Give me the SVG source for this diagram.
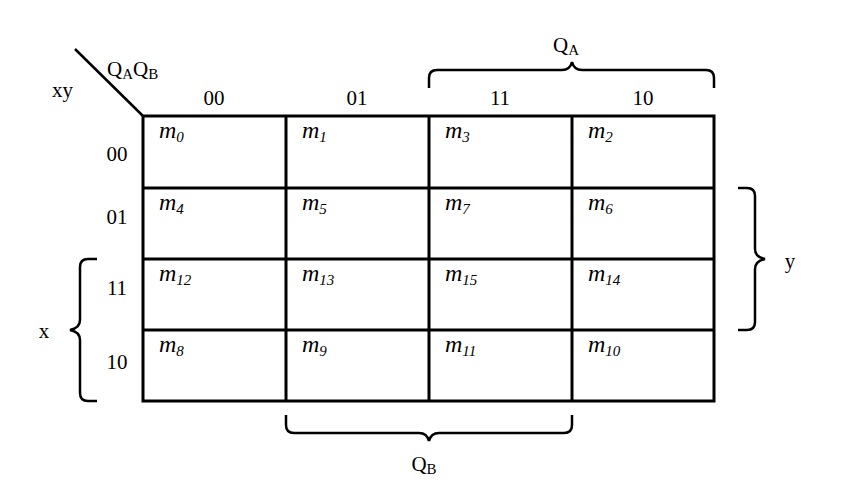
<svg xmlns="http://www.w3.org/2000/svg" width="850" height="492" viewBox="0 0 850 492">
<style>
text{font-family:"Liberation Serif",serif;font-size:21px;fill:#000}
.m{font-style:italic;font-size:24px}
.s{font-size:15px}
.g{stroke:#000;stroke-width:3;fill:none}
.b{stroke:#000;stroke-width:2.5;fill:none}
</style>
<rect width="850" height="492" fill="#fff"/>
<g id="grid">
<rect class="g" x="143" y="116" width="571" height="285"/>
<path class="g" d="M286 116V401M429 116V401M572 116V401M143 188H714M143 259H714M143 330H714"/>
<path d="M75 49L143 116" stroke="#000" stroke-width="2.5"/>
</g>
<g id="labels">
<text x="52" y="97">xy</text>
<text x="107" y="76">Q<tspan class="s" dy="3">A</tspan><tspan dy="-3">Q</tspan><tspan class="s" dy="3">B</tspan></text>
<text x="214" y="105" text-anchor="middle">00</text>
<text x="357" y="105" text-anchor="middle">01</text>
<text x="500" y="105" text-anchor="middle">11</text>
<text x="643" y="105" text-anchor="middle">10</text>
<text x="117" y="161" text-anchor="middle">00</text>
<text x="117" y="224" text-anchor="middle">01</text>
<text x="117" y="295" text-anchor="middle">11</text>
<text x="117" y="369" text-anchor="middle">10</text>
<text x="566" y="52" text-anchor="middle">Q<tspan class="s" dy="3">A</tspan></text>
<text x="424" y="471" text-anchor="middle">Q<tspan class="s" dy="3">B</tspan></text>
<text x="44" y="338" text-anchor="middle">x</text>
<text x="790" y="268" text-anchor="middle">y</text>
</g>
<g id="cells">
<text class="m" x="159" y="138">m<tspan class="s" dy="4">0</tspan></text>
<text class="m" x="302" y="138">m<tspan class="s" dy="4">1</tspan></text>
<text class="m" x="445" y="138">m<tspan class="s" dy="4">3</tspan></text>
<text class="m" x="588" y="138">m<tspan class="s" dy="4">2</tspan></text>
<text class="m" x="159" y="210">m<tspan class="s" dy="4">4</tspan></text>
<text class="m" x="302" y="210">m<tspan class="s" dy="4">5</tspan></text>
<text class="m" x="445" y="210">m<tspan class="s" dy="4">7</tspan></text>
<text class="m" x="588" y="210">m<tspan class="s" dy="4">6</tspan></text>
<text class="m" x="159" y="281">m<tspan class="s" dy="4">12</tspan></text>
<text class="m" x="302" y="281">m<tspan class="s" dy="4">13</tspan></text>
<text class="m" x="445" y="281">m<tspan class="s" dy="4">15</tspan></text>
<text class="m" x="588" y="281">m<tspan class="s" dy="4">14</tspan></text>
<text class="m" x="159" y="352">m<tspan class="s" dy="4">8</tspan></text>
<text class="m" x="302" y="352">m<tspan class="s" dy="4">9</tspan></text>
<text class="m" x="445" y="352">m<tspan class="s" dy="4">11</tspan></text>
<text class="m" x="588" y="352">m<tspan class="s" dy="4">10</tspan></text>
</g>
<g id="braces">
<path class="b" d="M429 88V78Q429 70 437 70H562Q570 70 572 62Q574 70 582 70H706Q714 70 714 78V88"/>
<path class="b" d="M286 415V425Q286 433 294 433H419Q427 433 429 441Q431 433 439 433H564Q572 433 572 425V415"/>
<path class="b" d="M97 259H88Q80 259 80 267V320Q80 328 70 330Q80 332 80 340V393Q80 401 88 401H97"/>
<path class="b" d="M738 188H747Q755 188 755 196V249Q755 257 765 259Q755 261 755 269V322Q755 330 747 330H738"/>
</g>
</svg>
